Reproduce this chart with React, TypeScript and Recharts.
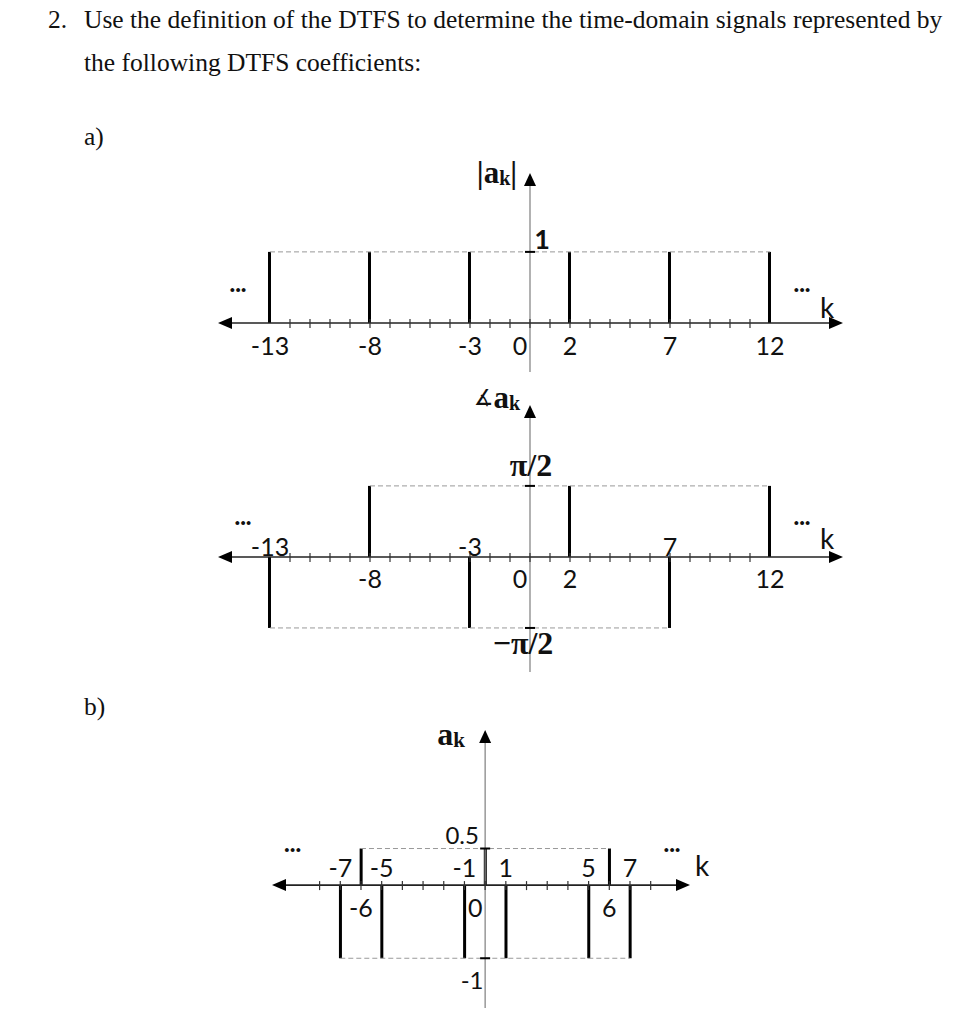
import React from 'react';
import { ComposedChart, Bar, Scatter, XAxis, YAxis, ReferenceLine, ReferenceDot } from 'recharts';

// a) magnitude |a_k|
const magK = [-13, -8, -3, 2, 7, 12];
const magValues = [1, 1, 1, 1, 1, 1];
const magTicks = [-12, -11, -10, -9, -8, -7, -6, -5, -4, -3, -2, -1, 0, 1, 2, 3, 4, 5, 6, 7, 8, 9, 10, 11];
const magTickLabels = ['-13', '-8', '-3', '0', '2', '7', '12'];
const magYValues = [1];
const magYLabels = ['1'];

// a) phase of a_k
const HALF_PI = Math.PI / 2;
const phaseK = [-13, -8, -3, 2, 7, 12];
const phaseValues = [-HALF_PI, HALF_PI, -HALF_PI, HALF_PI, -HALF_PI, HALF_PI];
const phaseTicks = [-12, -11, -10, -9, -8, -7, -6, -5, -4, -3, -2, -1, 0, 1, 2, 3, 4, 5, 6, 7, 8, 9, 10, 11];
const phaseTickLabels = ['-13', '-8', '-3', '0', '2', '7', '12'];
const phaseYValues = [HALF_PI, -HALF_PI];
const phaseYLabels = ['π/2', '−π/2'];

// b) a_k (real)
const bK = [-7, -6, -5, -1, 0, 1, 5, 6, 7];
const bValues = [-1, 0.5, -1, -1, 0.5, -1, -1, 0.5, -1];
const bTicks = [-8, -7, -6, -5, -4, -3, -2, -1, 0, 1, 2, 3, 4, 5, 6, 7, 8];
const bTickLabels = ['-7', '-6', '-5', '-1', '0', '1', '5', '6', '7'];
const bYValues = [0.5, -1];
const bYLabels = ['0.5', '-1'];

const LABEL_FONT = 'Lato, "Open Sans", sans-serif';
const SERIF = '"Liberation Serif", "DejaVu Serif", serif';

type Layout = {
  left: number;
  top: number;
  width: number;
  height: number;
  margin: { top: number; right: number; bottom: number; left: number };
  xDomain: [number, number];
  yDomain: [number, number];
  aboveDy: number;
  belowDy: number;
  yLabelOffsets: [number, number][];
  yLabelBold: boolean;
  yLabelFont: string;
  yLabelSize: number;
  nameOffset: [number, number];
  dots: [number, number][];
  kPos: [number, number];
};

const layoutMag: Layout = {
  left: 190, top: 150, width: 680, height: 240,
  margin: { top: 23, right: 27, bottom: 18, left: 28 },
  xDomain: [-15.6, 15.65],
  yDomain: [-0.69, 2.11],
  aboveDy: -10, belowDy: 22,
  yLabelOffsets: [[12, -13]],
  yLabelBold: true, yLabelFont: LABEL_FONT, yLabelSize: 27,
  nameOffset: [-33, -1],
  dots: [[-14.6, 0.44], [13.6, 0.44]],
  kPos: [14.85, 0.225],
};

const layoutPhase: Layout = {
  left: 190, top: 380, width: 680, height: 300,
  margin: { top: 25, right: 27, bottom: 8, left: 28 },
  xDomain: [-15.6, 15.65],
  yDomain: [-2.545, 3.36],
  aboveDy: -11, belowDy: 21,
  yLabelOffsets: [[1, -21], [-7, 15]],
  yLabelBold: true, yLabelFont: SERIF, yLabelSize: 32,
  nameOffset: [-33, -8],
  dots: [[-14.35, 0.71], [13.6, 0.71]],
  kPos: [14.85, 0.42],
};

const layoutB: Layout = {
  left: 250, top: 705, width: 480, height: 315,
  margin: { top: 25, right: 40, bottom: 12, left: 22 },
  xDomain: [-10.3, 9.9],
  yDomain: [-1.68, 2.12],
  aboveDy: -18, belowDy: 22,
  yLabelOffsets: [[-23, -14], [-13, 21]],
  yLabelBold: false, yLabelFont: LABEL_FONT, yLabelSize: 24,
  nameOffset: [-34, 4],
  dots: [[-9.3, 0.45], [9.03, 0.45]],
  kPos: [10.48, 0.27],
};

const hAxisShape = (p: any) => {
  const { x1, y1, x2 } = p;
  const left = Math.min(x1, x2);
  const right = Math.max(x1, x2);
  return (
    <g>
      <line x1={left + 8} y1={y1} x2={right - 8} y2={y1} stroke="#222" strokeWidth={1.6} />
      <polygon points={`${left},${y1} ${left + 14},${y1 - 6} ${left + 14},${y1 + 6}`} fill="#000" />
      <polygon points={`${right},${y1} ${right - 14},${y1 - 6} ${right - 14},${y1 + 6}`} fill="#000" />
    </g>
  );
};

const vAxisShape = (p: any) => {
  const { x1, y1, y2 } = p;
  const top = Math.min(y1, y2);
  const bottom = Math.max(y1, y2);
  return (
    <g>
      <line x1={x1} y1={top + 8} x2={x1} y2={bottom} stroke="#888" strokeWidth={1.3} />
      <polygon points={`${x1},${top} ${x1 - 6},${top + 13} ${x1 + 6},${top + 13}`} fill="#000" />
    </g>
  );
};

type PanelProps = {
  ks: number[];
  values: number[];
  ticks: number[];
  tickLabels: string[];
  yValues: number[];
  yLabels: string[];
  layout: Layout;
  name: (x: number, y: number) => React.ReactNode;
};

const StemPanel = ({ ks, values, ticks, tickLabels, yValues, yLabels, layout, name }: PanelProps) => {
  const L = layout;
  const data = ks.map((k, i) => ({ k, v: values[i] }));
  const tickData = ticks.map(k => ({ k, v: 0 }));
  const labelData = tickLabels.map(t => {
    const k = Number(t);
    const idx = ks.indexOf(k);
    const val = idx >= 0 ? values[idx] : 0;
    return { k, v: 0, text: t, above: val < 0 };
  });
  const yLabelData = yValues.map((v, i) => ({
    k: 0, v, text: yLabels[i], dx: L.yLabelOffsets[i][0], dy: L.yLabelOffsets[i][1],
  }));
  // dashed guides joining stems of equal height
  const guides = Array.from(new Set(values)).map(v => {
    const xs = ks.filter((_, i) => values[i] === v);
    return { v, from: Math.min(...xs), to: Math.max(...xs) };
  });

  return (
    <div style={{ position: 'absolute', left: L.left, top: L.top }}>
      <ComposedChart width={L.width} height={L.height} data={data} margin={L.margin}>
        <XAxis type="number" dataKey="k" domain={L.xDomain} allowDataOverflow hide />
        <YAxis type="number" dataKey="v" domain={L.yDomain} allowDataOverflow hide />
        {guides.map(g => (
          <ReferenceLine
            key={g.v}
            segment={[{ x: g.from, y: g.v }, { x: g.to, y: g.v }]}
            stroke="#999"
            strokeWidth={1}
            strokeDasharray="5 3"
          />
        ))}
        <ReferenceLine
          segment={[{ x: 0, y: L.yDomain[0] }, { x: 0, y: L.yDomain[1] }]}
          ifOverflow="visible"
          shape={vAxisShape}
        />
        <ReferenceLine
          segment={[{ x: L.xDomain[0], y: 0 }, { x: L.xDomain[1], y: 0 }]}
          ifOverflow="visible"
          shape={hAxisShape}
        />
        <Scatter
          data={tickData}
          isAnimationActive={false}
          shape={(p: any) => (
            <line x1={p.cx} x2={p.cx} y1={p.cy - 4} y2={p.cy + 5} stroke="#333" strokeWidth={1.2} />
          )}
        />
        <Bar dataKey="v" barSize={3} fill="#000" isAnimationActive={false} />
        <Scatter
          data={labelData}
          isAnimationActive={false}
          shape={(p: any) => {
            const d = p.payload;
            const dx = d.k === 0 ? -10 : 0;
            return (
              <text
                x={p.cx + dx}
                y={p.cy + (d.above ? L.aboveDy : L.belowDy)}
                textAnchor="middle"
                dominantBaseline="central"
                fontFamily={LABEL_FONT}
                fontSize={25}
                fill="#111"
              >
                {d.text}
              </text>
            );
          }}
        />
        <Scatter
          data={yLabelData}
          isAnimationActive={false}
          shape={(p: any) => {
            const d = p.payload;
            return (
              <g>
                <line x1={p.cx - 5} x2={p.cx + 5} y1={p.cy} y2={p.cy} stroke="#000" strokeWidth={2} />
                <text
                  x={p.cx + d.dx}
                  y={p.cy + d.dy}
                  textAnchor="middle"
                  dominantBaseline="central"
                  fontFamily={L.yLabelFont}
                  fontWeight={L.yLabelBold ? 700 : 400}
                  fontSize={L.yLabelSize}
                  fill="#111"
                >
                  {d.text}
                </text>
              </g>
            );
          }}
        />
        <ReferenceDot
          x={0}
          y={L.yDomain[1]}
          r={0}
          ifOverflow="visible"
          shape={(p: any) => <g>{name(p.cx + L.nameOffset[0], p.cy + L.nameOffset[1])}</g>}
        />
        {L.dots.map(([k, v], i) => (
          <ReferenceDot
            key={i}
            x={k}
            y={v}
            r={0}
            ifOverflow="visible"
            shape={(p: any) => (
              <text x={p.cx} y={p.cy} textAnchor="middle" fontFamily={LABEL_FONT} fontWeight={900} fontSize={24} fill="#111">
                ...
              </text>
            )}
          />
        ))}
        <ReferenceDot
          x={L.kPos[0]}
          y={L.kPos[1]}
          r={0}
          ifOverflow="visible"
          shape={(p: any) => (
            <text x={p.cx} y={p.cy} textAnchor="middle" dominantBaseline="central" fontFamily={LABEL_FONT} fontSize={28} fill="#111">
              k
            </text>
          )}
        />
      </ComposedChart>
    </div>
  );
};

const magName = (x: number, y: number) => (
  <text x={x} y={y} textAnchor="middle" dominantBaseline="central" fontFamily={SERIF} fontWeight={700} fontSize={31} fill="#111">
    <tspan>|a</tspan>
    <tspan fontSize={20} dy={6}>k</tspan>
    <tspan dy={-6}>|</tspan>
  </text>
);

const phaseName = (x: number, y: number) => (
  <text x={x} y={y} textAnchor="middle" dominantBaseline="central" fontFamily={SERIF} fontWeight={700} fontSize={31} fill="#111">
    <tspan fontWeight={400} fontFamily='"DejaVu Sans", sans-serif' fontSize={22}>∡</tspan>
    <tspan>a</tspan>
    <tspan fontSize={20} dy={6}>k</tspan>
  </text>
);

const bName = (x: number, y: number) => (
  <text x={x} y={y} textAnchor="middle" dominantBaseline="central" fontFamily={SERIF} fontWeight={700} fontSize={32} fill="#111">
    <tspan>a</tspan>
    <tspan fontSize={21} dy={6}>k</tspan>
  </text>
);

const textStyle: React.CSSProperties = {
  position: 'absolute',
  fontFamily: SERIF,
  fontSize: 25.5,
  lineHeight: '25.5px',
  color: '#111',
  whiteSpace: 'nowrap',
};

export default function App() {
  return (
    <div style={{ position: 'absolute', left: 0, top: 0, width: 966, height: 1024, background: '#fff' }}>
      <div style={{ ...textStyle, left: 48, top: 7 }}>2.</div>
      <div style={{ ...textStyle, left: 84, top: 7 }}>
        Use the definition of the DTFS to determine the time-domain signals represented by
      </div>
      <div style={{ ...textStyle, left: 84, top: 50 }}>the following DTFS coefficients:</div>
      <div style={{ ...textStyle, left: 84, top: 124 }}>a)</div>
      <div style={{ ...textStyle, left: 84, top: 694 }}>b)</div>

      <StemPanel
        ks={magK}
        values={magValues}
        ticks={magTicks}
        tickLabels={magTickLabels}
        yValues={magYValues}
        yLabels={magYLabels}
        layout={layoutMag}
        name={magName}
      />
      <StemPanel
        ks={phaseK}
        values={phaseValues}
        ticks={phaseTicks}
        tickLabels={phaseTickLabels}
        yValues={phaseYValues}
        yLabels={phaseYLabels}
        layout={layoutPhase}
        name={phaseName}
      />
      <StemPanel
        ks={bK}
        values={bValues}
        ticks={bTicks}
        tickLabels={bTickLabels}
        yValues={bYValues}
        yLabels={bYLabels}
        layout={layoutB}
        name={bName}
      />
    </div>
  );
}
